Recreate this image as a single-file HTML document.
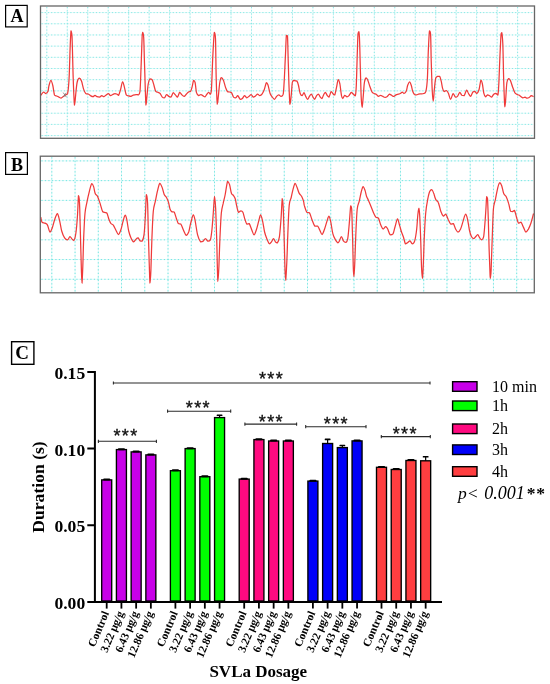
<!DOCTYPE html>
<html><head><meta charset="utf-8"><title>Figure</title>
<style>
html,body{margin:0;padding:0;background:#fff;}
body{width:550px;height:684px;overflow:hidden;}
svg{display:block;}
text{font-family:"Liberation Serif","Times New Roman",serif;fill:#000;}
.lb{font-weight:bold;font-size:17px;}
.tk{font-weight:bold;font-size:17.6px;}
.xl{font-weight:bold;font-size:11.4px;}
.st{font-family:"Liberation Sans",Arial,sans-serif;font-size:18px;letter-spacing:1.35px;fill:#111;stroke:#111;stroke-width:0.35px;}
.at{font-weight:bold;font-size:17px;}
.lg{font-size:16px;}
.pv{font-size:16.5px;}
</style></head>
<body><svg width="550" height="684" viewBox="0 0 550 684">
<rect width="550" height="684" fill="#fff"/>
<rect x="40.5" y="6.0" width="494.0" height="132.3" fill="#fff" stroke="none"/>
<path d="M41.5 12.60H533.5 M41.5 23.78H533.5 M41.5 34.96H533.5 M41.5 46.14H533.5 M41.5 57.32H533.5 M41.5 68.50H533.5 M41.5 79.68H533.5 M41.5 90.86H533.5 M41.5 102.04H533.5 M41.5 113.22H533.5 M41.5 124.40H533.5 M41.5 135.58H533.5 M46.80 7.0V137.3 M67.27 7.0V137.3 M87.74 7.0V137.3 M108.21 7.0V137.3 M128.68 7.0V137.3 M149.15 7.0V137.3 M169.62 7.0V137.3 M190.09 7.0V137.3 M210.56 7.0V137.3 M231.03 7.0V137.3 M251.50 7.0V137.3 M271.97 7.0V137.3 M292.44 7.0V137.3 M312.91 7.0V137.3 M333.38 7.0V137.3 M353.85 7.0V137.3 M374.32 7.0V137.3 M394.79 7.0V137.3 M415.26 7.0V137.3 M435.73 7.0V137.3 M456.20 7.0V137.3 M476.67 7.0V137.3 M497.14 7.0V137.3 M517.61 7.0V137.3" stroke="#e8fbfa" stroke-width="1" fill="none"/>
<path d="M41.5 12.60H533.5 M41.5 23.78H533.5 M41.5 34.96H533.5 M41.5 46.14H533.5 M41.5 57.32H533.5 M41.5 68.50H533.5 M41.5 79.68H533.5 M41.5 90.86H533.5 M41.5 102.04H533.5 M41.5 113.22H533.5 M41.5 124.40H533.5 M41.5 135.58H533.5 M46.80 7.0V137.3 M67.27 7.0V137.3 M87.74 7.0V137.3 M108.21 7.0V137.3 M128.68 7.0V137.3 M149.15 7.0V137.3 M169.62 7.0V137.3 M190.09 7.0V137.3 M210.56 7.0V137.3 M231.03 7.0V137.3 M251.50 7.0V137.3 M271.97 7.0V137.3 M292.44 7.0V137.3 M312.91 7.0V137.3 M333.38 7.0V137.3 M353.85 7.0V137.3 M374.32 7.0V137.3 M394.79 7.0V137.3 M415.26 7.0V137.3 M435.73 7.0V137.3 M456.20 7.0V137.3 M476.67 7.0V137.3 M497.14 7.0V137.3 M517.61 7.0V137.3" stroke="#8ae8e6" stroke-width="1" stroke-dasharray="1.2 2.0" fill="none"/>
<path d="M40.7 95.3C41.2 94.8 42.8 92.3 43.6 92.0C44.5 92.0 45.1 93.5 45.8 93.5C46.5 93.4 47.5 92.6 48.0 91.3C48.5 90.0 48.5 87.3 49.0 85.5C49.5 83.7 50.3 80.4 50.9 80.4C51.5 80.4 52.2 83.1 52.8 85.5C53.4 87.9 53.9 93.2 54.5 95.0C55.1 96.0 56.0 95.7 56.7 96.0C57.4 96.3 58.2 96.8 58.9 97.1C59.6 97.4 60.4 98.1 61.1 98.1C61.8 98.0 62.6 96.9 63.3 96.4C64.0 95.9 64.8 95.5 65.5 95.0C66.2 94.5 67.0 95.0 67.6 93.5C68.2 90.7 68.7 85.6 69.1 78.2C69.5 70.8 69.8 56.9 70.1 49.0C70.4 41.1 70.7 33.1 71.0 30.9C71.3 30.9 71.6 30.9 72.0 36.0C72.4 43.9 72.8 66.7 73.2 78.2C73.6 89.7 74.1 102.2 74.5 105.1C74.9 105.1 75.2 99.4 75.6 95.6C76.0 91.8 76.5 85.4 77.1 82.5C77.7 79.6 78.6 78.4 79.3 78.2C80.0 78.2 80.8 79.3 81.5 81.1C82.2 82.9 82.9 87.0 83.6 89.1C84.3 91.2 84.9 92.7 85.8 93.5C86.7 94.2 87.8 93.8 88.7 94.2C89.6 94.6 90.2 95.5 90.9 95.9C91.6 96.3 92.4 96.7 93.1 96.7C93.8 96.6 94.3 95.3 95.0 95.3C95.7 95.3 96.2 96.4 97.0 96.7C97.8 97.0 98.8 97.1 99.6 97.1C100.4 96.9 101.1 95.7 101.8 95.6C102.5 95.6 103.3 96.7 104.0 96.7C104.7 96.6 105.5 95.4 106.2 94.9C106.9 94.4 107.7 93.5 108.4 93.5C109.1 93.6 109.8 95.4 110.5 95.6C111.2 95.6 112.0 94.8 112.7 94.5C113.4 94.2 114.2 93.5 114.9 93.5C115.7 93.5 116.6 93.9 117.2 94.2C117.8 94.5 118.0 95.3 118.6 95.3C119.1 94.6 119.8 92.0 120.5 89.8C121.2 87.5 121.9 82.2 122.6 81.8C123.3 81.8 123.9 85.4 124.5 87.6C125.1 89.8 125.6 93.5 126.3 94.9C127.0 95.9 128.0 95.7 128.8 95.9C129.6 96.2 130.3 96.4 131.0 96.4C131.7 96.3 132.3 95.5 133.2 95.2C134.0 94.9 135.2 94.5 136.1 94.5C136.9 94.5 137.7 94.9 138.3 94.9C139.0 94.4 139.5 94.9 140.0 91.3C140.5 86.1 140.8 72.6 141.2 63.6C141.5 54.6 141.9 42.7 142.1 37.5C142.3 32.4 142.3 32.4 142.6 32.4C142.9 32.4 143.4 32.4 143.7 37.5C144.0 42.7 144.2 54.9 144.5 63.6C144.8 72.3 145.1 82.9 145.3 89.8C145.6 96.7 145.7 104.1 146.0 105.1C146.3 105.1 146.6 99.1 147.0 95.6C147.4 92.1 147.7 86.8 148.2 84.0C148.7 81.2 149.2 79.6 149.9 78.9C150.6 78.9 151.4 78.9 152.1 79.6C152.8 80.7 153.4 83.5 154.0 85.5C154.6 87.5 155.0 90.2 155.7 91.3C156.3 92.3 157.2 91.9 157.9 92.3C158.6 92.7 159.4 92.7 160.1 93.5C160.8 94.3 161.6 96.4 162.3 97.1C163.0 97.8 163.8 97.8 164.5 97.8C165.2 97.4 165.9 94.7 166.6 94.5C167.3 94.5 168.1 96.0 168.8 96.4C169.5 96.8 170.3 97.1 171.0 97.1C171.7 96.5 172.5 93.1 173.2 92.7C173.9 92.7 174.7 94.2 175.4 94.9C176.1 95.6 176.8 97.1 177.5 97.1C178.2 96.7 179.0 92.8 179.7 92.4C180.4 92.4 181.2 94.2 181.9 94.9C182.6 95.6 183.4 96.4 184.1 96.4C184.8 96.3 185.6 94.9 186.3 94.2C187.0 93.5 187.8 92.5 188.5 92.0C189.2 91.5 190.0 92.0 190.6 91.3C191.2 90.5 191.6 88.7 192.1 86.9C192.6 85.1 193.1 81.1 193.6 80.4C194.1 80.4 194.6 80.5 195.1 82.5C195.6 84.5 195.9 90.5 196.5 92.7C197.1 94.9 198.0 95.3 198.7 95.6C199.4 95.6 200.2 94.5 200.9 94.5C201.6 94.5 202.4 95.5 203.1 95.9C203.8 96.3 204.4 96.8 205.0 96.8C205.6 96.6 206.1 95.2 206.7 94.5C207.3 93.8 208.0 92.3 208.6 92.3C209.2 92.3 209.9 94.2 210.4 94.2C210.9 93.6 211.2 93.5 211.5 88.4C211.8 83.3 212.2 71.4 212.5 63.6C212.8 55.8 213.3 47.0 213.6 41.8C213.9 36.6 214.1 32.9 214.4 32.4C214.7 32.4 215.2 32.4 215.5 38.9C215.8 46.5 215.9 67.3 216.2 78.2C216.5 89.1 216.9 101.2 217.3 104.1C217.7 104.1 218.0 99.2 218.4 95.6C218.8 92.0 219.3 85.5 219.8 82.5C220.3 79.5 220.7 77.8 221.3 77.5C221.9 77.5 222.8 78.7 223.5 80.4C224.2 82.1 224.9 85.7 225.6 87.6C226.3 89.5 226.8 90.9 227.5 91.6C228.2 92.0 228.9 91.8 229.6 92.0C230.3 92.2 230.8 92.0 231.5 92.7C232.2 93.5 232.9 96.2 233.6 97.1C234.3 97.8 235.1 97.8 235.8 97.8C236.5 97.5 237.0 95.6 237.7 95.6C238.4 95.8 239.4 98.8 240.2 99.3C241.0 99.3 241.7 99.1 242.4 98.5C243.1 97.9 243.8 95.7 244.5 95.6C245.2 95.6 246.0 97.7 246.7 97.8C247.4 97.8 248.2 97.0 248.9 96.4C249.6 95.9 250.4 94.5 251.1 94.5C251.8 94.6 252.6 96.9 253.3 97.1C254.0 97.1 254.8 96.4 255.5 95.9C256.2 95.4 256.9 94.2 257.6 94.2C258.3 94.2 259.1 95.6 259.8 95.6C260.5 95.6 261.3 95.2 262.0 94.2C262.7 93.2 263.5 91.8 264.2 89.8C264.9 87.8 265.8 83.3 266.4 82.5C267.0 82.5 267.4 83.2 268.0 85.0C268.6 86.8 269.4 91.5 270.1 93.5C270.8 95.5 271.6 96.1 272.3 97.1C273.0 98.1 273.8 99.3 274.5 99.3C275.2 99.2 275.9 97.1 276.6 96.4C277.3 95.7 278.1 94.9 278.8 94.9C279.5 94.9 280.3 96.4 281.0 96.4C281.7 96.3 282.7 96.4 283.2 94.2C283.7 91.7 283.8 87.4 284.2 81.1C284.6 74.8 285.0 64.0 285.4 56.4C285.8 48.8 286.0 38.7 286.4 35.3C286.8 35.3 287.2 35.3 287.5 36.0C287.8 40.7 288.0 54.9 288.3 63.6C288.6 72.3 288.8 81.6 289.1 88.4C289.4 95.2 289.6 103.2 290.0 104.4C290.4 104.4 290.8 99.2 291.2 95.6C291.6 91.9 291.9 85.0 292.3 82.5C292.7 80.4 293.3 80.7 293.8 80.4C294.3 80.4 295.0 80.7 295.5 80.8C296.0 80.9 296.5 80.8 297.0 81.1C297.5 81.9 298.0 83.4 298.5 85.5C299.0 87.6 299.6 91.8 300.2 93.5C300.8 95.2 301.5 95.6 302.1 95.6C302.7 95.5 303.4 92.7 304.0 92.7C304.6 92.8 305.1 95.3 305.7 96.4C306.3 97.5 307.0 99.3 307.6 99.3C308.2 99.3 308.8 97.2 309.4 96.4C310.0 95.6 310.7 94.2 311.3 94.2C311.9 94.3 312.4 96.2 313.0 97.1C313.6 97.9 314.1 99.3 314.7 99.3C315.3 99.0 316.0 96.4 316.6 95.6C317.2 94.8 317.9 94.2 318.5 94.2C319.1 94.5 319.7 96.4 320.3 97.1C320.9 97.8 321.4 98.5 322.0 98.5C322.6 98.0 323.3 95.2 323.9 94.2C324.5 93.2 324.8 92.3 325.4 92.3C326.0 92.5 326.7 94.8 327.3 95.6C327.9 96.4 328.4 97.1 329.0 97.1C329.6 96.4 330.5 92.1 331.2 91.6C331.9 91.6 332.8 93.7 333.4 94.2C334.0 94.8 334.3 94.9 334.8 94.9C335.3 93.9 335.7 91.0 336.3 88.4C336.9 85.9 337.6 80.3 338.2 79.6C338.8 79.6 339.3 81.3 339.9 84.0C340.4 86.7 341.0 93.2 341.5 95.6C342.0 98.0 342.3 98.5 342.8 98.5C343.3 98.5 344.0 95.6 344.7 95.3C345.4 95.3 346.3 96.8 347.0 96.8C347.7 96.8 348.3 96.3 349.0 95.6C349.7 94.9 350.6 92.6 351.3 92.4C352.0 92.4 352.7 93.6 353.4 94.2C354.1 94.8 354.8 95.9 355.3 95.9C355.8 94.5 356.0 92.1 356.3 85.5C356.6 78.9 356.9 65.0 357.2 56.4C357.5 47.8 357.7 37.9 358.0 33.8C358.3 31.6 358.6 31.6 358.9 31.6C359.2 32.9 359.4 35.2 359.6 41.8C359.9 48.3 360.1 61.7 360.4 70.9C360.7 80.1 360.9 91.0 361.2 97.1C361.5 103.2 361.8 107.3 362.1 107.3C362.5 107.0 362.9 99.7 363.3 95.6C363.7 91.5 363.9 85.5 364.4 82.5C364.9 79.5 365.6 78.2 366.2 77.9C366.8 77.9 367.3 79.0 367.9 80.4C368.5 81.8 369.1 84.3 369.8 86.2C370.5 88.1 371.3 90.8 372.0 92.0C372.7 93.2 373.5 93.1 374.2 93.5C374.9 93.9 375.7 94.0 376.4 94.5C377.1 95.0 377.8 96.3 378.5 96.4C379.2 96.4 380.0 95.3 380.7 95.3C381.4 95.3 382.2 96.1 382.9 96.4C383.6 96.8 384.4 97.4 385.1 97.4C385.8 97.4 386.6 96.9 387.3 96.4C388.0 95.9 388.8 94.4 389.5 94.2C390.2 94.2 390.9 94.9 391.6 95.3C392.3 95.7 393.1 96.4 393.8 96.4C394.5 96.3 395.3 95.3 396.0 94.9C396.7 94.5 397.5 94.4 398.2 94.2C398.9 94.0 399.7 93.9 400.4 93.5C401.1 93.1 401.7 92.0 402.3 92.0C402.9 92.0 403.4 93.5 404.0 93.5C404.6 93.4 405.6 92.6 406.2 91.3C406.8 90.0 407.1 87.1 407.6 85.5C408.2 83.9 408.9 81.8 409.5 81.8C410.1 81.8 410.8 83.9 411.3 85.5C411.8 87.1 412.2 89.8 412.7 91.3C413.2 92.8 413.9 93.9 414.5 94.5C415.1 94.9 415.7 94.9 416.4 94.9C417.1 94.9 417.8 94.4 418.5 94.2C419.2 94.0 419.9 94.0 420.8 93.9C421.7 93.8 422.9 93.9 423.7 93.5C424.5 93.1 425.3 93.5 425.9 91.3C426.5 88.8 427.0 85.2 427.4 78.2C427.8 71.2 428.0 57.0 428.4 49.1C428.8 41.2 429.1 33.3 429.5 30.9C429.9 30.9 430.3 30.9 430.6 34.5C430.9 40.0 431.0 54.4 431.3 63.6C431.6 72.8 431.9 83.5 432.2 89.8C432.5 96.1 432.8 101.2 433.2 101.2C433.6 101.2 433.9 93.6 434.3 89.8C434.7 86.0 435.2 80.4 435.7 78.2C436.2 76.4 436.8 76.7 437.5 76.4C438.2 76.4 439.1 76.4 439.7 76.4C440.3 77.2 440.7 79.1 441.2 81.1C441.7 83.1 442.1 86.7 442.6 88.4C443.1 90.2 443.5 91.2 444.1 91.6C444.7 91.6 445.6 90.5 446.3 90.5C447.0 90.8 447.8 92.0 448.5 93.5C449.2 95.0 449.8 99.3 450.6 99.3C451.4 99.3 452.3 93.9 453.1 93.5C453.9 93.5 454.7 96.6 455.4 97.1C456.1 97.1 456.8 97.1 457.5 96.4C458.2 95.6 459.1 92.6 459.8 92.4C460.5 92.4 461.1 94.8 461.8 95.3C462.5 95.6 463.4 95.6 464.2 95.6C465.0 94.7 465.9 90.4 466.6 90.1C467.3 90.1 467.8 92.5 468.5 93.5C469.2 94.5 469.9 96.4 470.6 96.4C471.3 96.2 472.2 92.8 472.9 92.0C473.6 91.3 474.2 91.3 474.9 91.3C475.5 91.5 476.1 93.5 476.8 93.5C477.5 93.2 478.3 92.0 479.0 89.8C479.7 87.6 480.3 81.2 480.9 80.2C481.5 80.2 481.9 81.8 482.4 84.0C482.9 86.2 483.3 91.1 483.8 93.2C484.3 95.3 484.9 96.5 485.5 96.8C486.1 96.8 486.8 95.0 487.5 94.8C488.2 94.8 488.9 95.3 489.6 95.7C490.3 96.1 490.9 97.1 491.6 97.1C492.3 96.9 493.0 94.9 493.7 94.3C494.4 93.7 495.1 93.3 495.8 93.3C496.5 93.4 497.4 95.0 497.9 95.0C498.4 93.2 498.5 89.2 498.9 82.5C499.2 75.8 499.6 62.8 500.0 54.7C500.4 46.6 500.8 37.6 501.1 33.9C501.4 32.5 501.5 32.5 501.8 32.5C502.1 34.1 502.5 36.9 502.8 43.6C503.1 50.3 503.3 64.2 503.5 72.8C503.7 81.4 504.0 89.3 504.2 95.0C504.4 100.7 504.6 106.3 504.9 106.8C505.2 106.8 505.5 101.8 505.8 97.8C506.1 93.8 506.4 85.7 506.9 82.5C507.4 79.3 508.0 78.9 508.6 78.6C509.2 78.6 509.8 79.1 510.4 80.4C511.0 81.8 511.8 84.7 512.5 86.7C513.2 88.7 513.9 90.9 514.6 92.2C515.3 93.5 516.0 93.8 516.7 94.3C517.4 94.8 518.1 94.7 518.8 95.0C519.5 95.3 520.1 95.9 520.8 96.4C521.5 96.9 522.2 97.7 522.9 97.8C523.6 97.8 524.3 97.1 525.0 97.1C525.7 97.2 526.4 98.1 527.1 98.2C527.8 98.2 528.5 97.9 529.2 97.5C529.9 97.1 530.6 95.9 531.3 95.7C532.0 95.7 533.2 96.4 533.6 96.6" fill="none" stroke="#ef3a3a" stroke-width="1.25" stroke-linejoin="round"/>
<path d="M63.2 92.6L66.4 97.2M63.4 97.0L66.2 92.8" stroke="#777" stroke-width="0.8" fill="none"/>
<rect x="40.5" y="6.0" width="494.0" height="132.3" fill="none" stroke="#666" stroke-width="1.3"/>
<path d="M41.3 160.90H533.3 M41.3 180.63H533.3 M41.3 200.36H533.3 M41.3 220.09H533.3 M41.3 239.82H533.3 M41.3 259.55H533.3 M41.3 279.28H533.3 M51.80 157.2V291.8 M75.05 157.2V291.8 M98.29 157.2V291.8 M121.53 157.2V291.8 M144.78 157.2V291.8 M168.03 157.2V291.8 M191.27 157.2V291.8 M214.51 157.2V291.8 M237.76 157.2V291.8 M261.00 157.2V291.8 M284.25 157.2V291.8 M307.50 157.2V291.8 M330.74 157.2V291.8 M353.99 157.2V291.8 M377.23 157.2V291.8 M400.48 157.2V291.8 M423.72 157.2V291.8 M446.97 157.2V291.8 M470.21 157.2V291.8 M493.46 157.2V291.8 M516.70 157.2V291.8" stroke="#e4fafa" stroke-width="1" fill="none"/>
<path d="M41.3 160.90H533.3 M41.3 180.63H533.3 M41.3 200.36H533.3 M41.3 220.09H533.3 M41.3 239.82H533.3 M41.3 259.55H533.3 M41.3 279.28H533.3 M51.80 157.2V291.8 M75.05 157.2V291.8 M98.29 157.2V291.8 M121.53 157.2V291.8 M144.78 157.2V291.8 M168.03 157.2V291.8 M191.27 157.2V291.8 M214.51 157.2V291.8 M237.76 157.2V291.8 M261.00 157.2V291.8 M284.25 157.2V291.8 M307.50 157.2V291.8 M330.74 157.2V291.8 M353.99 157.2V291.8 M377.23 157.2V291.8 M400.48 157.2V291.8 M423.72 157.2V291.8 M446.97 157.2V291.8 M470.21 157.2V291.8 M493.46 157.2V291.8 M516.70 157.2V291.8" stroke="#74e6e2" stroke-width="1" stroke-dasharray="1.3 2.2" fill="none"/>
<path d="M40.8 217.2C41.0 218.0 41.3 221.1 42.0 222.1C42.7 223.1 44.0 222.6 44.9 223.1C45.8 223.6 46.7 223.6 47.5 225.1C48.3 226.6 49.1 231.5 49.9 232.0C50.7 232.0 51.4 230.1 52.2 228.0C53.0 225.9 53.9 221.6 54.8 219.2C55.7 216.8 56.6 213.6 57.4 213.6C58.2 213.9 59.0 218.2 59.7 221.1C60.4 224.0 60.9 228.2 61.7 231.0C62.5 233.8 63.6 236.4 64.6 237.9C65.6 239.4 66.7 239.9 67.6 239.9C68.5 239.7 69.3 236.7 70.0 236.5C70.7 236.5 71.2 238.2 71.9 238.9C72.6 239.6 73.2 240.5 73.9 240.5C74.6 239.5 75.3 237.2 75.9 233.0C76.5 228.8 77.1 221.4 77.5 215.2C77.9 208.9 78.2 197.8 78.5 195.5C78.8 195.5 79.2 197.5 79.4 201.4C79.7 205.3 79.8 211.3 80.0 219.2C80.2 227.1 80.6 240.2 80.8 248.7C81.0 257.2 81.2 264.6 81.4 270.4C81.6 276.1 81.8 283.2 82.0 283.2C82.2 282.6 82.5 274.6 82.8 266.5C83.1 258.4 83.4 243.8 83.8 234.9C84.2 226.0 84.5 218.6 85.0 213.2C85.5 207.8 86.2 206.0 86.9 202.4C87.6 198.8 88.5 194.7 89.3 191.6C90.1 188.5 91.0 184.5 91.7 183.7C92.4 183.7 93.0 185.0 93.6 186.6C94.2 188.2 94.5 191.8 95.2 193.5C95.9 195.2 96.8 194.8 97.6 196.5C98.4 198.2 99.2 200.9 100.1 203.4C100.9 205.9 101.8 210.2 102.7 211.7C103.6 212.6 104.6 212.3 105.3 212.6C106.0 212.8 106.4 212.6 107.0 213.2C107.6 214.3 108.2 217.5 108.9 219.2C109.6 220.9 110.2 222.5 110.9 223.5C111.6 224.5 112.5 224.0 113.3 225.1C114.1 226.2 114.9 228.4 115.8 230.0C116.7 231.6 117.6 234.5 118.4 234.5C119.2 234.5 120.0 232.2 120.8 230.0C121.6 227.8 122.4 223.6 123.1 221.1C123.8 218.6 124.5 215.5 125.1 215.2C125.7 215.2 126.1 216.6 126.7 219.2C127.3 221.8 128.0 227.9 128.7 231.0C129.4 234.1 130.2 236.1 131.0 237.9C131.8 239.7 132.7 241.6 133.6 241.8C134.5 241.8 135.4 239.6 136.2 238.9C136.9 238.2 137.4 237.9 138.1 237.9C138.8 238.2 139.4 240.4 140.1 240.9C140.8 241.2 141.4 241.2 142.1 241.2C142.8 240.2 143.4 239.2 144.0 234.9C144.6 230.6 145.0 221.9 145.4 215.2C145.8 208.5 146.0 196.5 146.4 194.5C146.8 194.5 147.3 196.7 147.6 203.4C147.9 210.1 148.1 225.1 148.4 234.9C148.7 244.8 148.9 254.4 149.2 262.5C149.5 270.6 149.7 281.9 150.0 283.2C150.3 283.2 150.6 277.8 150.9 270.4C151.2 263.0 151.5 248.8 151.9 238.9C152.3 229.1 152.7 217.6 153.3 211.3C153.9 205.1 154.6 204.7 155.3 201.4C156.0 198.1 156.6 194.6 157.3 191.6C158.1 188.6 159.0 184.0 159.8 183.3C160.6 183.3 161.5 185.7 162.2 187.6C162.9 189.5 163.5 192.8 164.2 194.5C164.9 196.2 165.8 196.2 166.5 197.5C167.2 198.8 167.9 200.4 168.5 202.4C169.1 204.4 169.5 207.7 170.1 209.3C170.7 210.9 171.3 211.5 172.0 211.9C172.7 212.0 173.5 211.9 174.2 212.0C174.9 213.1 175.6 216.3 176.3 218.2C177.0 220.1 177.6 222.5 178.3 223.5C179.1 224.1 180.0 223.5 180.8 224.1C181.7 225.2 182.5 228.1 183.4 230.0C184.3 231.9 185.3 235.0 186.2 235.3C187.1 235.3 187.9 234.0 188.7 232.0C189.4 230.0 189.9 226.0 190.7 223.1C191.5 220.2 192.6 215.1 193.3 214.8C194.1 214.8 194.5 217.8 195.2 221.1C195.9 224.4 196.7 231.4 197.6 234.9C198.5 238.4 199.7 240.8 200.6 241.8C201.5 241.8 202.3 241.8 203.1 241.2C203.9 240.6 204.7 238.5 205.5 238.5C206.3 238.5 207.1 241.0 207.9 241.2C208.7 241.2 209.7 241.2 210.4 239.9C211.1 237.9 211.5 233.8 212.0 229.0C212.5 224.2 213.0 216.7 213.4 211.3C213.8 205.9 214.2 196.8 214.6 196.5C215.0 196.5 215.3 202.2 215.7 209.3C216.0 216.4 216.4 229.7 216.7 238.9C217.0 248.1 217.1 257.4 217.3 264.5C217.5 271.6 217.6 281.0 217.9 281.3C218.2 281.3 218.6 273.6 218.9 266.5C219.2 259.4 219.5 247.8 219.9 238.9C220.3 230.0 220.8 219.1 221.3 213.2C221.9 207.3 222.5 206.5 223.2 203.4C223.8 200.3 224.5 198.2 225.2 194.5C225.9 190.8 226.9 183.0 227.6 181.3C228.3 181.3 228.9 182.6 229.6 184.6C230.2 186.6 230.8 191.7 231.5 193.5C232.2 195.3 232.9 194.6 233.5 195.5C234.1 196.4 234.8 197.3 235.3 199.0C235.8 200.7 236.1 203.2 236.6 205.4C237.1 207.6 237.8 211.4 238.5 212.3C239.2 212.3 240.2 210.9 240.9 210.9C241.6 210.9 242.2 210.9 242.9 212.3C243.6 213.7 244.2 217.2 244.9 219.2C245.6 221.2 246.1 223.4 246.8 224.1C247.5 224.1 248.4 223.5 249.2 223.5C250.0 224.5 251.0 228.1 251.8 230.0C252.6 231.9 253.3 234.9 254.1 234.9C254.8 234.9 255.5 232.3 256.3 230.0C257.1 227.7 258.0 223.6 258.7 221.1C259.4 218.6 260.0 214.8 260.6 214.8C261.2 214.8 261.9 218.2 262.6 221.1C263.3 224.0 263.9 229.0 264.6 232.0C265.3 235.0 266.1 236.9 266.9 238.9C267.7 240.9 268.7 243.3 269.5 243.8C270.3 243.8 270.8 242.7 271.5 241.8C272.2 240.9 272.9 238.5 273.5 238.5C274.1 238.5 274.8 241.1 275.4 241.8C276.0 242.5 276.7 242.8 277.4 242.8C278.1 242.0 278.8 240.8 279.4 236.9C280.0 233.0 280.5 225.6 281.0 219.2C281.5 212.8 281.9 200.2 282.3 198.5C282.7 198.5 283.0 201.9 283.3 209.3C283.6 216.7 284.0 233.3 284.3 242.8C284.6 252.3 284.7 260.2 284.9 266.5C285.1 272.8 285.4 280.3 285.7 280.3C286.0 280.0 286.3 272.1 286.7 264.5C287.1 256.9 287.4 244.8 287.8 234.9C288.2 225.1 288.6 211.6 289.2 205.4C289.8 199.2 290.5 200.3 291.2 197.5C291.9 194.7 292.5 191.0 293.2 188.6C293.9 186.2 294.5 183.5 295.1 183.3C295.8 183.3 296.4 186.0 297.1 187.6C297.8 189.2 298.3 191.6 299.1 193.1C299.9 194.6 300.9 195.1 301.7 196.5C302.4 197.9 303.2 199.9 303.6 201.4C304.0 202.9 303.8 203.6 304.3 205.4C304.9 207.2 306.0 211.1 306.9 212.3C307.8 212.8 308.7 212.3 309.5 212.8C310.3 214.0 310.9 217.0 311.8 219.2C312.7 221.4 313.8 224.9 314.8 226.1C315.8 226.1 316.9 226.1 317.7 226.1C318.5 226.8 319.0 228.6 319.7 230.0C320.4 231.4 321.3 234.5 322.1 234.5C322.9 234.3 323.8 231.2 324.6 229.0C325.4 226.8 326.3 223.2 327.0 221.1C327.7 219.0 328.3 216.2 329.0 216.2C329.7 216.5 330.4 220.1 331.0 223.1C331.6 226.1 332.1 231.1 332.9 233.9C333.6 236.7 334.7 238.4 335.5 239.9C336.3 241.4 337.2 242.6 337.9 242.8C338.5 242.8 338.8 242.0 339.4 240.9C340.0 239.8 340.7 236.5 341.4 236.5C342.1 236.5 342.7 239.9 343.4 240.9C344.1 241.9 345.1 242.4 345.8 242.4C346.5 242.1 347.1 242.1 347.7 238.9C348.3 235.7 348.8 228.6 349.3 223.1C349.8 217.6 350.3 208.1 350.7 205.8C351.1 205.8 351.4 205.8 351.7 209.3C352.0 214.2 352.2 225.7 352.5 234.9C352.8 244.1 353.0 257.6 353.2 264.5C353.4 271.4 353.5 276.3 353.8 276.3C354.1 276.0 354.5 269.4 354.8 262.5C355.1 255.6 355.4 243.8 355.8 234.9C356.2 226.0 356.6 214.9 357.2 209.3C357.8 203.7 358.5 204.2 359.2 201.4C359.9 198.6 360.5 195.0 361.1 192.5C361.8 190.0 362.4 186.9 363.1 186.6C363.8 186.6 364.5 188.9 365.1 190.6C365.7 192.2 366.0 194.9 366.6 196.5C367.2 198.1 367.8 198.8 368.5 200.4C369.2 202.0 370.1 204.3 370.9 206.3C371.7 208.3 372.5 210.5 373.3 212.3C374.1 214.1 375.0 216.2 375.8 217.2C376.6 218.2 377.6 217.2 378.4 218.2C379.2 219.5 380.0 223.3 380.8 225.1C381.6 226.9 382.3 228.7 383.1 229.0C383.9 229.0 384.9 226.7 385.7 226.7C386.5 226.7 386.9 227.6 387.7 229.0C388.4 230.4 389.3 234.1 390.2 234.9C391.1 234.9 392.2 234.9 393.0 233.9C393.8 232.6 394.2 229.5 395.0 227.0C395.8 224.5 396.8 219.1 397.5 218.8C398.2 218.8 398.8 222.9 399.5 225.1C400.2 227.3 400.8 230.0 401.5 232.0C402.2 234.0 402.9 235.3 403.5 237.3C404.1 239.3 404.8 242.9 405.4 243.8C406.0 243.8 406.6 243.3 407.4 242.8C408.2 242.3 409.2 240.9 410.0 240.9C410.8 241.1 411.5 243.8 412.3 243.8C413.1 243.8 414.0 243.4 414.7 240.9C415.4 238.4 416.2 233.3 416.7 229.0C417.2 224.7 417.4 218.6 417.8 215.2C418.2 211.8 418.5 208.3 418.8 208.3C419.1 208.6 419.5 211.4 419.8 217.2C420.1 222.9 420.5 234.2 420.8 242.8C421.1 251.4 421.3 262.6 421.6 268.5C421.9 274.4 422.1 278.3 422.4 278.3C422.7 277.3 423.1 269.7 423.4 262.5C423.7 255.3 424.0 243.1 424.4 234.9C424.8 226.7 425.1 219.1 425.7 213.2C426.2 207.3 427.0 203.0 427.7 199.4C428.4 195.8 429.0 193.2 429.7 191.6C430.4 189.9 431.0 189.5 431.7 189.5C432.4 189.7 433.1 191.7 433.6 193.0C434.2 194.3 434.6 196.3 435.0 197.5C435.4 198.7 435.8 199.6 436.3 200.4C436.9 201.2 437.6 200.6 438.3 202.4C439.1 204.2 440.0 209.0 440.8 211.3C441.6 213.6 442.6 215.7 443.4 216.2C444.2 216.2 445.0 214.2 445.8 214.2C446.6 214.7 447.3 217.5 448.1 219.2C448.9 220.8 449.8 223.4 450.7 224.1C451.6 224.1 452.5 223.5 453.3 223.5C454.1 224.3 454.8 227.6 455.6 229.0C456.4 230.4 457.2 232.0 458.0 232.0C458.8 232.0 459.8 230.8 460.6 229.0C461.5 227.2 462.3 223.6 463.1 221.1C463.9 218.6 464.8 214.5 465.5 214.2C466.2 214.2 466.9 216.6 467.5 219.2C468.1 221.8 468.8 227.1 469.4 230.0C470.0 232.9 470.7 235.1 471.4 236.5C472.1 237.9 473.1 238.5 473.8 238.5C474.5 238.5 475.2 237.2 475.8 236.5C476.4 235.8 477.1 234.5 477.7 234.5C478.3 234.7 479.0 237.0 479.7 237.9C480.4 238.8 481.0 239.9 481.7 239.9C482.4 239.7 483.1 239.4 483.6 236.9C484.1 234.4 484.4 229.6 484.8 225.0C485.2 220.4 485.6 214.1 485.9 209.3C486.2 204.6 486.4 198.3 486.7 196.5C487.0 196.5 487.2 196.5 487.5 198.5C487.8 202.3 488.0 210.8 488.3 219.2C488.6 227.6 488.8 240.2 489.1 248.8C489.4 257.4 489.7 265.6 489.9 270.5C490.1 275.4 490.1 278.4 490.3 278.4C490.5 278.4 490.8 277.1 491.1 270.5C491.4 263.9 491.8 249.1 492.2 238.9C492.6 228.7 492.9 215.9 493.4 209.3C493.9 202.7 494.7 203.1 495.4 199.5C496.1 195.9 497.1 190.4 497.8 187.6C498.5 184.8 499.1 183.0 499.7 182.7C500.3 182.7 501.0 183.9 501.7 185.7C502.4 187.5 503.0 191.8 503.7 193.6C504.4 195.4 505.3 194.9 506.1 196.5C506.9 198.1 507.9 200.9 508.6 203.4C509.4 205.9 509.9 209.9 510.6 211.3C511.3 211.7 512.0 211.7 512.6 211.7C513.2 211.5 513.9 210.3 514.5 210.3C515.1 211.2 515.8 215.0 516.5 217.2C517.2 219.3 517.8 222.4 518.5 223.2C519.2 223.2 520.2 222.2 521.0 222.2C521.8 222.8 522.6 225.5 523.4 227.1C524.2 228.7 525.0 231.7 525.8 232.0C526.6 232.0 527.5 230.6 528.4 229.1C529.2 227.6 530.0 225.8 530.9 223.2C531.8 220.6 533.1 215.1 533.6 213.5" fill="none" stroke="#ef3a3a" stroke-width="1.25" stroke-linejoin="round"/>
<rect x="40.3" y="156.2" width="493.99999999999994" height="136.60000000000002" fill="none" stroke="#666" stroke-width="1.3"/>
<rect x="5.60" y="5.40" width="21.60" height="21.50" fill="#fff" stroke="#000" stroke-width="1.2"/>
<text x="17.0" y="21.6" text-anchor="middle" style="font-size:18.0px;font-weight:bold;">A</text>
<rect x="5.60" y="152.60" width="21.80" height="21.80" fill="#fff" stroke="#000" stroke-width="1.2"/>
<text x="17.1" y="171.3" text-anchor="middle" style="font-size:18.0px;font-weight:bold;">B</text>
<rect x="11.60" y="341.70" width="22.30" height="22.60" fill="#fff" stroke="#000" stroke-width="1.4"/>
<text x="22.1" y="358.8" text-anchor="middle" style="font-size:19.0px;font-weight:bold;">C</text>
<path d="M94.9 370.9V603 M87.3 602H442 M87.3 371.9H95 M87.3 448.6H95 M87.3 525.3H95" stroke="#000" stroke-width="2" fill="none"/>
<text x="85.2" y="378.8" text-anchor="end" class="tk">0.15</text>
<text x="85.2" y="455.5" text-anchor="end" class="tk">0.10</text>
<text x="85.2" y="532.2" text-anchor="end" class="tk">0.05</text>
<text x="85.2" y="608.9" text-anchor="end" class="tk">0.00</text>
<rect x="101.70" y="479.90" width="10.0" height="121.10" fill="#c800e8" stroke="#000" stroke-width="1.35"/>
<rect x="103.10" y="478.50" width="7.2" height="2.0" rx="1.0" fill="#000"/>
<path d="M106.70 603V608.6" stroke="#000" stroke-width="1.8"/>
<text transform="translate(109.30 613.0) rotate(-67)" text-anchor="end" class="xl">Control</text>
<rect x="116.42" y="449.60" width="10.0" height="151.40" fill="#c800e8" stroke="#000" stroke-width="1.35"/>
<rect x="117.82" y="448.20" width="7.2" height="2.0" rx="1.0" fill="#000"/>
<path d="M121.42 603V608.6" stroke="#000" stroke-width="1.8"/>
<text transform="translate(124.02 613.0) rotate(-67)" text-anchor="end" class="xl">3.22 μg/g</text>
<rect x="131.14" y="451.90" width="10.0" height="149.10" fill="#c800e8" stroke="#000" stroke-width="1.35"/>
<rect x="132.54" y="450.50" width="7.2" height="2.0" rx="1.0" fill="#000"/>
<path d="M136.14 603V608.6" stroke="#000" stroke-width="1.8"/>
<text transform="translate(138.74 613.0) rotate(-67)" text-anchor="end" class="xl">6.43 μg/g</text>
<rect x="145.86" y="454.90" width="10.0" height="146.10" fill="#c800e8" stroke="#000" stroke-width="1.35"/>
<rect x="147.26" y="453.50" width="7.2" height="2.0" rx="1.0" fill="#000"/>
<path d="M150.86 603V608.6" stroke="#000" stroke-width="1.8"/>
<text transform="translate(153.46 613.0) rotate(-67)" text-anchor="end" class="xl">12.86 μg/g</text>
<rect x="170.40" y="470.70" width="10.0" height="130.30" fill="#00ff00" stroke="#000" stroke-width="1.35"/>
<rect x="171.80" y="469.30" width="7.2" height="2.0" rx="1.0" fill="#000"/>
<path d="M175.40 603V608.6" stroke="#000" stroke-width="1.8"/>
<text transform="translate(178.00 613.0) rotate(-67)" text-anchor="end" class="xl">Control</text>
<rect x="185.12" y="448.60" width="10.0" height="152.40" fill="#00ff00" stroke="#000" stroke-width="1.35"/>
<rect x="186.52" y="447.20" width="7.2" height="2.0" rx="1.0" fill="#000"/>
<path d="M190.12 603V608.6" stroke="#000" stroke-width="1.8"/>
<text transform="translate(192.72 613.0) rotate(-67)" text-anchor="end" class="xl">3.22 μg/g</text>
<rect x="199.84" y="476.70" width="10.0" height="124.30" fill="#00ff00" stroke="#000" stroke-width="1.35"/>
<rect x="201.24" y="475.30" width="7.2" height="2.0" rx="1.0" fill="#000"/>
<path d="M204.84 603V608.6" stroke="#000" stroke-width="1.8"/>
<text transform="translate(207.44 613.0) rotate(-67)" text-anchor="end" class="xl">6.43 μg/g</text>
<rect x="214.56" y="417.60" width="10.0" height="183.40" fill="#00ff00" stroke="#000" stroke-width="1.35"/>
<path d="M219.56 417.5V415.3" stroke="#000" stroke-width="1.2"/>
<rect x="216.66" y="414.40" width="5.8" height="1.6" rx="0.5" fill="#000"/>
<path d="M219.56 603V608.6" stroke="#000" stroke-width="1.8"/>
<text transform="translate(222.16 613.0) rotate(-67)" text-anchor="end" class="xl">12.86 μg/g</text>
<rect x="239.20" y="479.10" width="10.0" height="121.90" fill="#ff0a80" stroke="#000" stroke-width="1.35"/>
<rect x="240.60" y="477.70" width="7.2" height="2.0" rx="1.0" fill="#000"/>
<path d="M244.20 603V608.6" stroke="#000" stroke-width="1.8"/>
<text transform="translate(246.80 613.0) rotate(-67)" text-anchor="end" class="xl">Control</text>
<rect x="253.92" y="439.60" width="10.0" height="161.40" fill="#ff0a80" stroke="#000" stroke-width="1.35"/>
<rect x="255.32" y="438.20" width="7.2" height="2.0" rx="1.0" fill="#000"/>
<path d="M258.92 603V608.6" stroke="#000" stroke-width="1.8"/>
<text transform="translate(261.52 613.0) rotate(-67)" text-anchor="end" class="xl">3.22 μg/g</text>
<rect x="268.64" y="441.00" width="10.0" height="160.00" fill="#ff0a80" stroke="#000" stroke-width="1.35"/>
<rect x="270.04" y="439.60" width="7.2" height="2.0" rx="1.0" fill="#000"/>
<path d="M273.64 603V608.6" stroke="#000" stroke-width="1.8"/>
<text transform="translate(276.24 613.0) rotate(-67)" text-anchor="end" class="xl">6.43 μg/g</text>
<rect x="283.36" y="441.00" width="10.0" height="160.00" fill="#ff0a80" stroke="#000" stroke-width="1.35"/>
<rect x="284.76" y="439.60" width="7.2" height="2.0" rx="1.0" fill="#000"/>
<path d="M288.36 603V608.6" stroke="#000" stroke-width="1.8"/>
<text transform="translate(290.96 613.0) rotate(-67)" text-anchor="end" class="xl">12.86 μg/g</text>
<rect x="307.90" y="481.10" width="10.0" height="119.90" fill="#0000f8" stroke="#000" stroke-width="1.35"/>
<rect x="309.30" y="479.70" width="7.2" height="2.0" rx="1.0" fill="#000"/>
<path d="M312.90 603V608.6" stroke="#000" stroke-width="1.8"/>
<text transform="translate(315.50 613.0) rotate(-67)" text-anchor="end" class="xl">Control</text>
<rect x="322.62" y="443.50" width="10.0" height="157.50" fill="#0000f8" stroke="#000" stroke-width="1.35"/>
<path d="M327.62 443.4V439.5" stroke="#000" stroke-width="1.2"/>
<rect x="324.72" y="438.60" width="5.8" height="1.6" rx="0.5" fill="#000"/>
<path d="M327.62 603V608.6" stroke="#000" stroke-width="1.8"/>
<text transform="translate(330.22 613.0) rotate(-67)" text-anchor="end" class="xl">3.22 μg/g</text>
<rect x="337.34" y="447.60" width="10.0" height="153.40" fill="#0000f8" stroke="#000" stroke-width="1.35"/>
<path d="M342.34 447.5V445.6" stroke="#000" stroke-width="1.2"/>
<rect x="339.44" y="444.70" width="5.8" height="1.6" rx="0.5" fill="#000"/>
<path d="M342.34 603V608.6" stroke="#000" stroke-width="1.8"/>
<text transform="translate(344.94 613.0) rotate(-67)" text-anchor="end" class="xl">6.43 μg/g</text>
<rect x="352.06" y="440.90" width="10.0" height="160.10" fill="#0000f8" stroke="#000" stroke-width="1.35"/>
<rect x="353.46" y="439.50" width="7.2" height="2.0" rx="1.0" fill="#000"/>
<path d="M357.06 603V608.6" stroke="#000" stroke-width="1.8"/>
<text transform="translate(359.66 613.0) rotate(-67)" text-anchor="end" class="xl">12.86 μg/g</text>
<rect x="376.50" y="467.30" width="10.0" height="133.70" fill="#ff3e40" stroke="#000" stroke-width="1.35"/>
<rect x="377.90" y="465.90" width="7.2" height="2.0" rx="1.0" fill="#000"/>
<path d="M381.50 603V608.6" stroke="#000" stroke-width="1.8"/>
<text transform="translate(384.10 613.0) rotate(-67)" text-anchor="end" class="xl">Control</text>
<rect x="391.22" y="469.50" width="10.0" height="131.50" fill="#ff3e40" stroke="#000" stroke-width="1.35"/>
<rect x="392.62" y="468.10" width="7.2" height="2.0" rx="1.0" fill="#000"/>
<path d="M396.22 603V608.6" stroke="#000" stroke-width="1.8"/>
<text transform="translate(398.82 613.0) rotate(-67)" text-anchor="end" class="xl">3.22 μg/g</text>
<rect x="405.94" y="460.50" width="10.0" height="140.50" fill="#ff3e40" stroke="#000" stroke-width="1.35"/>
<rect x="407.34" y="459.10" width="7.2" height="2.0" rx="1.0" fill="#000"/>
<path d="M410.94 603V608.6" stroke="#000" stroke-width="1.8"/>
<text transform="translate(413.54 613.0) rotate(-67)" text-anchor="end" class="xl">6.43 μg/g</text>
<rect x="420.66" y="460.80" width="10.0" height="140.20" fill="#ff3e40" stroke="#000" stroke-width="1.35"/>
<path d="M425.66 460.7V456.8" stroke="#000" stroke-width="1.2"/>
<rect x="422.76" y="455.90" width="5.8" height="1.6" rx="0.5" fill="#000"/>
<path d="M425.66 603V608.6" stroke="#000" stroke-width="1.8"/>
<text transform="translate(428.26 613.0) rotate(-67)" text-anchor="end" class="xl">12.86 μg/g</text>
<path d="M112.8 383.0H430.6 M113.4 381.4V384.6 M430.0 381.4V384.6" stroke="#2a2a2a" stroke-width="1.05" fill="none"/>
<text x="259.0" y="384.8" class="st">***</text>
<path d="M97.8 441.3H157.0 M98.4 439.7V442.9 M156.4 439.7V442.9" stroke="#2a2a2a" stroke-width="1.05" fill="none"/>
<text x="113.5" y="442.1" class="st">***</text>
<path d="M167.0 411.2H231.3 M167.6 409.6V412.8 M230.7 409.6V412.8" stroke="#2a2a2a" stroke-width="1.05" fill="none"/>
<text x="185.8" y="413.5" class="st">***</text>
<path d="M244.3 424.1H297.2 M244.9 422.5V425.7 M296.6 422.5V425.7" stroke="#2a2a2a" stroke-width="1.05" fill="none"/>
<text x="258.8" y="427.7" class="st">***</text>
<path d="M305.1 426.7H366.6 M305.7 425.1V428.3 M366.0 425.1V428.3" stroke="#2a2a2a" stroke-width="1.05" fill="none"/>
<text x="323.8" y="429.8" class="st">***</text>
<path d="M380.7 436.6H430.9 M381.3 435.0V438.2 M430.3 435.0V438.2" stroke="#2a2a2a" stroke-width="1.05" fill="none"/>
<text x="392.7" y="440.1" class="st">***</text>
<text transform="translate(43.6 487) rotate(-90)" text-anchor="middle" class="at" style="font-size:17.6px">Duration (s)</text>
<text x="258.3" y="677.4" text-anchor="middle" class="at">SVLa Dosage</text>
<rect x="452.6" y="381.7" width="24.4" height="9.6" fill="#c800e8" stroke="#000" stroke-width="1.4"/>
<text x="492" y="391.6" class="lg">10 min</text>
<rect x="452.6" y="401.0" width="24.4" height="9.6" fill="#00ff00" stroke="#000" stroke-width="1.4"/>
<text x="492" y="410.9" class="lg">1h</text>
<rect x="452.6" y="424.0" width="24.4" height="9.6" fill="#ff0a80" stroke="#000" stroke-width="1.4"/>
<text x="492" y="433.9" class="lg">2h</text>
<rect x="452.6" y="444.9" width="24.4" height="9.6" fill="#0000f8" stroke="#000" stroke-width="1.4"/>
<text x="492" y="454.8" class="lg">3h</text>
<rect x="452.6" y="466.7" width="24.4" height="9.6" fill="#ff3e40" stroke="#000" stroke-width="1.4"/>
<text x="492" y="476.6" class="lg">4h</text>
<text y="498.7" class="pv"><tspan x="458" font-style="italic" font-size="17.5px">p&lt;</tspan><tspan x="484.2" font-style="italic" font-size="18px">0.001</tspan><tspan x="526.8" font-size="17.5px" letter-spacing="0.6" font-weight="bold">**</tspan></text>
</svg></body></html>
